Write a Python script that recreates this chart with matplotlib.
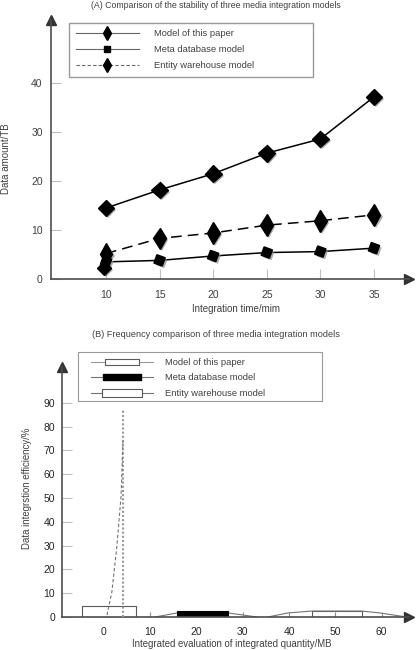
import matplotlib
matplotlib.use('Agg')
import matplotlib.pyplot as plt
import matplotlib.patheffects as pe
from matplotlib.lines import Line2D
from matplotlib.patches import Rectangle

plt.rcParams['font.family'] = ['Liberation Sans', 'DejaVu Sans']

# (A) stability data
times = [10, 15, 20, 25, 30, 35]
paper_amount = [14.5, 18.2, 21.5, 25.7, 28.6, 37.2]
meta_amount = [3.5, 3.8, 4.7, 5.4, 5.6, 6.3]
entity_amount = [5.2, 8.3, 9.4, 11.0, 11.9, 13.1]
stray_x = [9.8]
stray_y = [2.2]
a_yticks = [0, 10, 20, 30, 40]

# (B) frequency data
paper_box = [-4.75, 6.9, 4.6]          # left, right, height
paper_peak_x = 4.1
paper_peak_y = 87
paper_curve_x = [0.65, 1.7, 2.8, 3.7, 4.1]
paper_curve_y = [0.8, 10.5, 30, 51, 74]
meta_box = [15.8, 26.8, 2.5]
meta_whisk_x = [11.0, 15.8, 26.8, 30.2, 33.0]
meta_whisk_y = [0.0, 1.7, 1.7, 0.8, 0.0]
entity_box = [44.9, 55.7, 2.5]
entity_whisk_x = [35.4, 39.7, 44.9, 55.7, 59.6, 65.4]
entity_whisk_y = [0.0, 1.7, 2.5, 2.5, 1.7, 0.0]
b_xticks = [0, 10, 20, 30, 40, 50, 60]
b_yticks = [0, 10, 20, 30, 40, 50, 60, 70, 80, 90]

labels = ['Model of this paper', 'Meta database model', 'Entity warehouse model']

W, H = 416, 650
TXT = '0.25'
fig = plt.figure(figsize=(W / 100, H / 100), dpi=100)


def box(l, t, r, b):
    return [l / W, 1 - b / H, (r - l) / W, (b - t) / H]


def arrows(ax):
    for s in ['top', 'right']:
        ax.spines[s].set_visible(False)
    for s in ['left', 'bottom']:
        ax.spines[s].set_color('0.3')
        ax.spines[s].set_linewidth(1.2)
    ax.plot(1, 0, '>', color='0.2', ms=7, transform=ax.transAxes, clip_on=False)
    ax.plot(0, 1, '^', color='0.2', ms=7, transform=ax.transAxes, clip_on=False)


shadow = [pe.SimplePatchShadow(offset=(1.5, -1.5), shadow_rgbFace='0.55', alpha=0.7), pe.Normal()]

# ---- panel A
axA = fig.add_axes(box(51, 20, 409, 279))
arrows(axA)
axA.plot(times, paper_amount, color='k', lw=1.1)
axA.plot(times, paper_amount, 'D', color='k', ms=8.5, ls='none', path_effects=shadow)
axA.plot(times, entity_amount, color='k', lw=1.1, ls=(0, (7, 4)))
axA.plot(times, entity_amount, 'd', color='k', ms=11, ls='none', path_effects=shadow)
axA.plot(times, meta_amount, color='k', lw=1.1)
axA.plot(times, meta_amount, marker=(4, 0, 25), color='k', ms=9, ls='none', path_effects=shadow)
axA.plot(stray_x, stray_y, 'D', color='k', ms=7, ls='none', path_effects=shadow)
axA.set_xlim(4.87, 38.27)
axA.set_ylim(0, 52.9)
axA.set_xticks(times)
axA.set_yticks(a_yticks)
axA.tick_params(axis='both', direction='in', length=7, width=0.8, color='0.75',
                labelsize=7.5, labelcolor=TXT)
axA.tick_params(axis='x', pad=8)
axA.tick_params(axis='y', pad=6)

leg_a = [
    Line2D([], [], color='0.4', lw=0.8, marker='d', ms=7, mfc='k', mec='k'),
    Line2D([], [], color='0.4', lw=0.8, marker='s', ms=4, mfc='k', mec='k'),
    Line2D([], [], color='0.4', lw=0.8, ls=(0, (3, 2)), marker='d', ms=7, mfc='k', mec='k'),
]
fig.legend(leg_a, labels,
           loc='lower left', bbox_to_anchor=box(69, 22, 313, 77), mode='expand',
           fontsize=6.75, handlelength=6.8, handletextpad=1.6, labelspacing=0.75,
           borderpad=0.7, fancybox=False, edgecolor='0.6', framealpha=1, borderaxespad=0,
           numpoints=1, labelcolor=TXT)

fig.text(216 / W, 1 - 5 / H, '(A) Comparison of the stability of three media integration models',
         ha='center', va='center', fontsize=6.3, color=TXT)
fig.text(236 / W, 1 - 309 / H, 'Integration time/mim', ha='center', va='center',
         fontsize=7.0, color=TXT)
fig.text(6 / W, 1 - 159 / H, 'Data amount/TB', ha='center', va='center', rotation=90,
         fontsize=7.0, color=TXT)

# ---- panel B
axB = fig.add_axes(box(62, 367, 409, 617))
arrows(axB)
axB.bar(paper_box[0], paper_box[2], width=paper_box[1] - paper_box[0], align='edge',
        facecolor='white', edgecolor='0.35', lw=0.8, zorder=2)
axB.bar(meta_box[0], meta_box[2], width=meta_box[1] - meta_box[0], align='edge',
        facecolor='k', edgecolor='k', lw=0.8, zorder=2)
axB.bar(entity_box[0], entity_box[2], width=entity_box[1] - entity_box[0], align='edge',
        facecolor='white', edgecolor='0.35', lw=0.8, zorder=1)
axB.plot(meta_whisk_x, meta_whisk_y, color='0.45', lw=0.8, zorder=1.2)
axB.plot(entity_whisk_x, entity_whisk_y, color='0.45', lw=0.8, zorder=1.2)
axB.vlines(paper_peak_x, 0, paper_peak_y, color='0.6', lw=1.5, linestyles=(0, (1, 1)), zorder=3)
axB.plot(paper_curve_x, paper_curve_y, color='0.45', lw=0.8, ls=(0, (3, 2)), zorder=3)
axB.set_xlim(-9.07, 65.9)
axB.set_ylim(0, 105.1)
axB.set_xticks(b_xticks)
axB.set_yticks(b_yticks)
axB.tick_params(axis='both', direction='in', width=0.8, color='0.55',
                labelsize=7.5, labelcolor='0.15')
axB.tick_params(axis='x', length=3.6, pad=7)
axB.tick_params(axis='y', length=7, color='0.75', pad=5)

rect = [(-2.5, -0.5), (2.5, -0.5), (2.5, 0.5), (-2.5, 0.5), (-2.5, -0.5)]
rect2 = [(-2.7, -0.5), (2.7, -0.5), (2.7, 0.5), (-2.7, 0.5), (-2.7, -0.5)]
leg_b = [
    Line2D([], [], color='0.6', lw=0.8, marker=rect, ms=25, mfc='white', mec='0.35', mew=0.8),
    Line2D([], [], color='0.45', lw=0.8, marker=rect2, ms=27, mfc='k', mec='k'),
    Line2D([], [], color='0.45', lw=0.8, marker=rect2, ms=29, mfc='white', mec='0.35', mew=0.8),
]
fig.add_artist(Rectangle((78 / W, 1 - 401 / H), 244 / W, 49 / H, transform=fig.transFigure,
                         facecolor='white', edgecolor='0.6', lw=0.8))
fig.legend(leg_b, labels,
           loc='center left', bbox_to_anchor=(87 / W, 1 - 378 / H),
           fontsize=6.75, handlelength=6.6, handletextpad=1.3, labelspacing=0.68,
           frameon=False, borderaxespad=0, numpoints=1, labelcolor=TXT)

fig.text(216 / W, 1 - 335 / H, '(B) Frequency comparison of three media integration models',
         ha='center', va='center', fontsize=6.6, color=TXT)
fig.text(232 / W, 1 - 644 / H, 'Integrated evaluation of integrated quantity/MB',
         ha='center', va='center', fontsize=6.9, color=TXT)
fig.text(27 / W, 1 - 488 / H, 'Data integrstion efficiency/%', ha='center', va='center',
         rotation=90, fontsize=6.9, color=TXT)

fig.savefig('out.png', dpi=100)
